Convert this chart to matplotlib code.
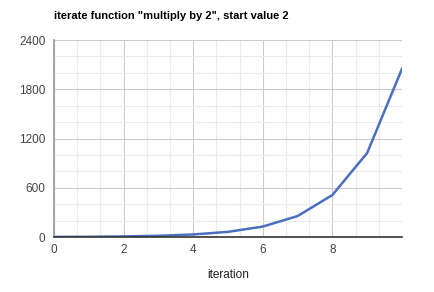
import matplotlib
matplotlib.use("Agg")
import matplotlib.pyplot as plt
from matplotlib.ticker import FixedLocator, MultipleLocator

plt.rcParams['font.family'] = ['Liberation Sans', 'DejaVu Sans']

# iterate "multiply by 2" starting at 2
iterations = [0, 1, 2, 3, 4, 5, 6, 7, 8, 9, 10]
values = [2, 4, 8, 16, 32, 64, 128, 256, 512, 1024, 2048]
x_ticks = [0, 2, 4, 6, 8]

fig = plt.figure(figsize=(4.35, 2.92), dpi=100)
ax = fig.add_axes([0.124, 0.188, 0.8, 0.675])

ax.plot(iterations, values, color='#4a6fbf', linewidth=1.8, solid_joinstyle='round')

ax.set_xlim(0, 10)
ax.set_ylim(0, 2400)
ax.xaxis.set_major_locator(FixedLocator(x_ticks))
# minor grid every 2/3 unit, like the reference
minor_x = [k * 2 / 3 for k in range(1, 15) if k % 3 != 0]
ax.xaxis.set_minor_locator(FixedLocator(minor_x))
ax.yaxis.set_major_locator(MultipleLocator(600))
ax.yaxis.set_minor_locator(MultipleLocator(200))

ax.grid(which='major', color='#cccccc', linewidth=0.8)
ax.grid(which='minor', color='#ebebeb', linewidth=0.8)
ax.set_axisbelow(True)

for s in ['top', 'right']:
    ax.spines[s].set_visible(False)
ax.spines['left'].set_color('#999999')
ax.spines['left'].set_linewidth(1.2)
ax.spines['bottom'].set_color('#333333')
ax.spines['bottom'].set_linewidth(1.2)

ax.tick_params(which='both', length=0, labelsize=8.5, colors='#444444', pad=6)
ax.tick_params(axis='x', pad=5)

ax.set_xlabel('iteration', fontsize=8.5, color='#222222', labelpad=9)
fig.text(0.124, 0.945, 'iterate function "multiply by 2", start value 2',
         fontsize=8, fontweight='bold', color='#000000', va='center', ha='left')

fig.savefig('out.png', dpi=100)
